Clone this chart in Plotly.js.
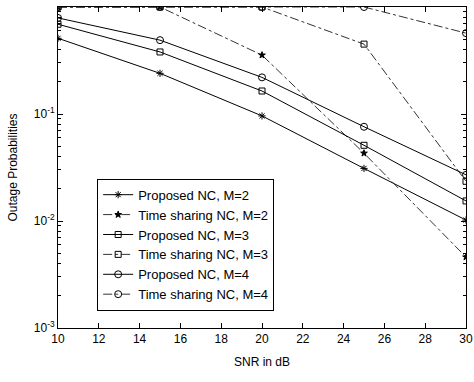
<!DOCTYPE html>
<html><head><meta charset="utf-8">
<script src="https://cdn.plot.ly/plotly-3.0.1.min.js"></script>
<style>html,body{margin:0;padding:0;background:#fff}#c{width:474px;height:382px}</style>
</head><body><div id="c"></div>
<script>
const snr = [10, 15, 20, 25, 30];
const propM2 = [0.51, 0.24, 0.096, 0.031, 0.0102];
const tsM2   = [1.0, 1.0, 0.355, 0.043, 0.0046];
const propM3 = [0.69, 0.38, 0.164, 0.051, 0.0154];
const tsM3   = [1.0, 1.0, 1.0, 0.45, 0.0235];
const propM4 = [0.79, 0.49, 0.22, 0.076, 0.027];
const tsM4   = [1.0, 1.0, 1.0, 1.0, 0.57];
const names = ['Proposed NC, M=2','Time sharing NC, M=2','Proposed NC, M=3','Time sharing NC, M=3','Proposed NC, M=4','Time sharing NC, M=4'];
const yTickVals = [0.001, 0.01, 0.1, 1];
const yTickText = ['10<sup>-3</sup>','10<sup>-2</sup>','10<sup>-1</sup>','10<sup>0</sup>'];
const xTickVals = [10,12,14,16,18,20,22,24,26,28,30];

const series = [propM2, tsM2, propM3, tsM3, propM4, tsM4];
const symbols = ['asterisk-open','star','square-open','square-open','circle-open','circle-open'];
const sizes = [6,5,6,6,7,7];
const traces = series.map((ys,i)=>({
  x: snr, y: ys, name: names[i], type:'scatter', mode:'lines+markers',
  line:{color: i%2 ? '#333' : '#000', width: 1, dash: i%2 ? 'dashdot' : 'solid'},
  marker:{symbol: symbols[i], size: sizes[i], color:'#000', line:{color:'#000', width:1}}
}));

const layout = {
  width:474, height:382,
  margin:{l:58, r:8, t:7, b:54},
  paper_bgcolor:'#fff', plot_bgcolor:'#fff',
  font:{family:'Liberation Sans, Arial, sans-serif', size:12, color:'#000'},
  showlegend:true,
  legend:{x:0.096, y:0.465, xanchor:'left', yanchor:'top', bgcolor:'#fff', bordercolor:'#000', borderwidth:1,
    font:{size:13}, tracegroupgap:0, itemwidth:30},
  xaxis:{range:[10,30], tickvals:xTickVals, ticks:'inside', ticklen:5, tickcolor:'#000',
    showline:true, linecolor:'#000', linewidth:1, mirror:'ticks', showgrid:false, zeroline:false,
    title:{text:'SNR in dB', font:{size:12}, standoff:12}},
  yaxis:{type:'log', range:[-3,0], tickvals:yTickVals, ticktext:yTickText, ticks:'inside', ticklen:5, tickcolor:'#000',
    showline:true, linecolor:'#000', linewidth:1, mirror:'ticks', showgrid:false, zeroline:false,
    minor:{ticks:'inside', ticklen:3, tickcolor:'#000', dtick:'D1', showgrid:false},
    title:{text:'Outage Probabilities', font:{size:12}, standoff:13}}
};
Plotly.newPlot('c', traces, layout, {displayModeBar:false, staticPlot:true});
</script></body></html>
